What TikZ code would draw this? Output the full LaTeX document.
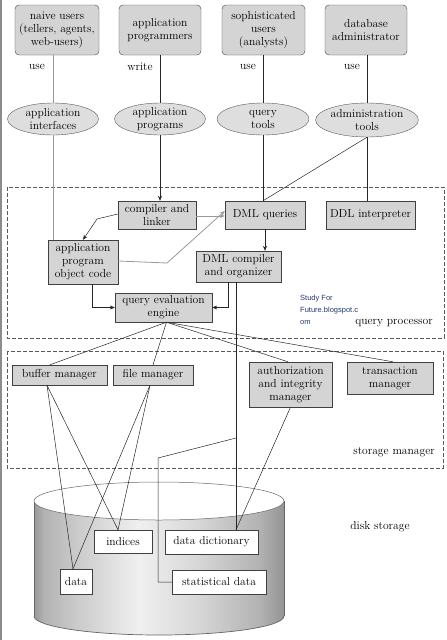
\documentclass[tikz,border=0pt]{standalone}
\usepackage{fontspec}
\newfontfamily\wmfont{Liberation Sans}
\usetikzlibrary{arrows.meta,calc,shapes.geometric}
\definecolor{wmblue}{RGB}{35,55,105}
\pgfdeclarehorizontalshading{cylshade}{100bp}{color(0bp)=(black!40); color(25bp)=(black!40); color(27bp)=(black!30); color(34bp)=(black!20); color(46bp)=(black!6); color(58bp)=(black!16); color(70bp)=(black!30); color(75bp)=(black!42); color(100bp)=(black!42)}
\begin{document}
\begin{tikzpicture}[x=1pt,y=-1pt,
  every node/.style={font=\fontsize{11.6}{13}\selectfont},
  ubox/.style={draw=black!75, fill=black!17, rounded corners=4pt, align=center, inner sep=1pt},
  pbox/.style={draw=black!75, fill=black!17, align=center, inner sep=1pt},
  wbox/.style={draw=black!75, fill=white, align=center, inner sep=1pt},
  tool/.style={ellipse, draw=black!65, fill=black!13, align=center, inner xsep=0pt, inner ysep=-2pt},
  ln/.style={draw=black!85, line width=0.5pt},
  lg/.style={draw=black!40, line width=0.8pt},
  arr/.style={-{Stealth[length=5pt,width=4pt]}},
  region/.style={draw=black!65, dash pattern=on 4pt off 2pt, line width=0.6pt},
  txt/.style={inner sep=0pt}
]
\useasboundingbox (0,0) rectangle (447,640);
\draw[black!45, line width=1.5pt] (1,0) -- (1,640);

% regions
\draw[region] (7,187) rectangle (444,338);
\draw[region] (7,351) rectangle (443,468);

% users
\node[ubox, minimum width=84pt, minimum height=50pt] (naive) at (57,30) {naive users\\(tellers, agents,\\web-users)};
\node[ubox, minimum width=82pt, minimum height=50pt] (prog) at (160,30) {application\\programmers};
\node[ubox, minimum width=83pt, minimum height=50pt] (soph) at (263.5,30) {sophisticated\\users\\(analysts)};
\node[ubox, minimum width=82pt, minimum height=50pt] (dba) at (366,30) {database\\administrator};

\node[txt] (u1) at (37,67) {use};
\node[txt] (u2) at (140,67) {write};
\node[txt] (u3) at (248,67) {use};
\node[txt] (u4) at (352,67) {use};

% tools
\node[tool, minimum width=91pt, minimum height=32pt] (ai) at (53,119) {application\\interfaces};
\node[tool, minimum width=91pt, minimum height=32pt] (ap) at (160,119) {application\\programs};
\node[tool, minimum width=92pt, minimum height=32pt] (qt) at (263,119) {query\\tools};
\node[tool, minimum width=92pt, minimum height=34pt] (at) at (367,120) {administration\\tools};

% query processor
\node[pbox, minimum width=78pt, minimum height=28pt] (cl) at (157,215) {compiler and\\linker};
\node[pbox, minimum width=80pt, minimum height=28pt] (dq) at (265,215) {DML queries};
\node[pbox, minimum width=89pt, minimum height=28pt] (ddl) at (370.5,215) {DDL interpreter};
\node[pbox, minimum width=70pt, minimum height=44pt] (apoc) at (83,262) {application\\program\\object code};
\node[pbox, minimum width=85pt, minimum height=31pt] (dmlc) at (238.5,266.5) {DML compiler\\and organizer};
\node[pbox, minimum width=97pt, minimum height=29pt] (qe) at (163.5,307.5) {query evaluation\\engine};

\node[txt, anchor=north west, align=left, text=wmblue, font=\wmfont\fontsize{7.5}{12}\selectfont] (wm) at (300,295) {Study For\\Future.blogspot.c\\om};
\node[txt, anchor=east] (qp) at (433,323) {query processor};

% storage manager
\node[pbox, minimum width=95pt, minimum height=20pt] (bm) at (59.5,375) {buffer manager};
\node[pbox, minimum width=80pt, minimum height=20pt] (fm) at (153,375) {file manager};
\node[pbox, minimum width=83pt, minimum height=45pt] (aim) at (290.5,384.5) {authorization\\and integrity\\manager};
\node[pbox, minimum width=86pt, minimum height=32pt] (tm) at (390,378) {transaction\\manager};
\node[txt, anchor=east] (sm) at (435,452) {storage manager};

% disk cylinder
\shade[shading=cylshade] (34,501) rectangle (284,616);
\shade[shading=cylshade] (159,616) ellipse[x radius=125, y radius=19];
\draw[black!60, line width=0.6pt] (34,501) -- (34,616);
\draw[black!60, line width=0.6pt] (284,501) -- (284,616);
\begin{scope}
\clip (30,616) rectangle (290,640);
\draw[black!60, line width=0.7pt] (159,616) ellipse[x radius=125, y radius=19];
\end{scope}
\draw[black!60, fill=white, line width=0.5pt] (159,501) ellipse[x radius=125, y radius=19];
\node[txt] (ds) at (380,527) {disk storage};

\node[wbox, minimum width=32pt, minimum height=25pt] (data) at (76,581.5) {data};
\node[wbox, minimum width=58pt, minimum height=23pt] (ind) at (123,541.5) {indices};
\node[wbox, minimum width=93pt, minimum height=24pt] (dd) at (211.5,542) {data dictionary};
\node[wbox, minimum width=94pt, minimum height=24pt] (sd) at (219,582) {statistical data};

% connectors: users to tools
\draw[lg] (naive.south -| ai.north) -- (ai.north);
\draw[ln] (prog.south -| ap.north) -- (ap.north);
\draw[ln] (soph.south -| qt.north) -- (qt.north);
\draw[ln] (dba.south -| at.north) -- (at.north);

% tools to query processor
\draw[lg] (ai.south) -- (ai.south |- apoc.north);
\draw[ln, arr] (ap.south) -- (ap.south |- cl.north);
\draw[ln] (qt.south) -- (qt.south |- dq.north);
\draw[ln] (at.south) -- (at.south |- ddl.north);
\draw[ln] (at.south) -- (qt.south |- dq.north);

\draw[lg, arr] ([yshift=-1]cl.east) -- ([yshift=-1]dq.west);
\coordinate (k1) at (97,219);
\draw[ln, arr] ([yshift=1]cl.west) -- (k1) -- (apoc.north);
\coordinate (k2) at (167,263);
\draw[lg, arr] ([yshift=1]apoc.east) -- (k2) -- ([yshift=4]dq.west);
\draw[ln, arr] (dq.south) -- (dq.south |- dmlc.north);
\draw[ln, arr] ([xshift=9]apoc.south) |- (qe.west);
\draw[ln, arr] ([xshift=-10.5]dmlc.south) |- (qe.east);

% query engine to storage manager
\draw[ln] ([xshift=3]qe.south) -- ([xshift=-9.5]bm.north);
\draw[ln] ([xshift=3]qe.south) -- (fm.north);
\draw[ln] ([xshift=3]qe.south) -- ([xshift=-2.5]aim.north);
\draw[ln] ([xshift=3]qe.south) -- ([xshift=3]tm.north);

% storage manager to disk
\draw[ln] ([xshift=-12.5]bm.south) -- ([xshift=-3]data.north);
\draw[ln] ([xshift=-12.5]bm.south) -- ([xshift=-5]ind.north);
\draw[ln] ([xshift=-3]fm.south) -- ([xshift=-3]data.north);
\draw[ln] ([xshift=-3]fm.south) -- ([xshift=-5]ind.north);
\draw[ln] (aim.south) -- ([xshift=24.5]dd.north);
\draw[ln] ([xshift=-2.5]dmlc.south) -- ([xshift=24.5]dd.north);
\coordinate (s1) at (236,438);
\coordinate (s2) at (158,458);
\draw[ln] (s1) -- (s2) |- (sd.west);
\end{tikzpicture}
\end{document}
